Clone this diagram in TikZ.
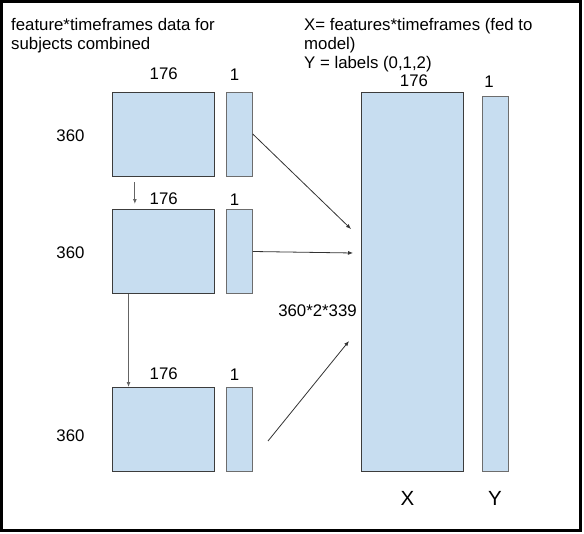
\documentclass[tikz,border=0pt]{standalone}
\usepackage{fontspec}
\setmainfont{Liberation Sans}
\usetikzlibrary{arrows.meta}
\definecolor{cellblue}{RGB}{199,221,240}
\definecolor{edgegray}{RGB}{60,60,60}
\definecolor{stackgray}{RGB}{100,100,100}

\begin{document}
\begin{tikzpicture}[x=1pt,y=-1pt,
  every node/.style={inner sep=0pt, font=\fontsize{16.8}{19}\selectfont},
  matbox/.style={draw=edgegray, fill=cellblue, line width=0.9pt, minimum width=102pt, minimum height=84pt},
  labbox/.style={draw=edgegray!75, fill=cellblue, line width=0.9pt, minimum width=26pt, minimum height=84pt},
  bigname/.style={font=\fontsize{20.5}{24}\selectfont},
  link/.style={draw=black!80, line width=0.8pt, -{Latex[length=5pt,width=4pt]}},
  stack/.style={draw=stackgray, line width=1.1pt, -{Latex[length=5pt,width=4pt]}}]
\useasboundingbox (0,0) rectangle (584,534);
% Frame
\draw[line width=2.5pt] (1.7,1.7) rectangle (580.5,530.5);

% Captions
\node[anchor=north west, align=left] (title) at (11,18) {feature*timeframes data for\\subjects combined};
\node[anchor=north west, align=left] (legend) at (304,18) {X= features*timeframes (fed to\\model)\\Y = labels (0,1,2)};

% Per subject blocks
\foreach \i/\y/\t/\s in {1/134/74/136, 2/251.5/199/253, 3/429.5/373.5/435.5} {
    \node[matbox] (mat\i) at (163,\y) {};
    \node[labbox] (lab\i) at (239.3,\y) {};
    \node (cols\i) at (163.7,\t) {176};
    \node (one\i) at (234.5,\t+1) {1};
    \node (rows\i) at (70.5,\s) {360};
}

% Combined matrices
\node[matbox, minimum height=379pt] (matX) at (412,281.5) {};
\node[labbox, minimum height=374.5pt] (labY) at (495,283.75) {};
\node (colsX) at (414,81) {176};
\node (oneY) at (489,82) {1};
\node[bigname] (nameX) at (407.5,498.5) {X};
\node[bigname] (nameY) at (495,498.5) {Y};
\node (total) at (317.5,311) {360*2*339};

% Stacking arrows
\draw[stack] ([xshift=23.3pt,yshift=-6pt]mat1.south west) -- ([xshift=23.3pt,yshift=5pt]mat2.north west);
\draw[stack] ([xshift=17pt]mat2.south west) -- ([xshift=17pt]mat3.north west);

% Into X
\coordinate (in1) at (351,229);
\coordinate (in2) at (353,253);
\coordinate (in3) at (349,341);
\coordinate (out3) at (268,441);
\draw[link] (lab1.east) -- (in1);
\draw[link] (lab2.east) -- (in2);
\draw[link] (out3) -- (in3);
\end{tikzpicture}
\end{document}
